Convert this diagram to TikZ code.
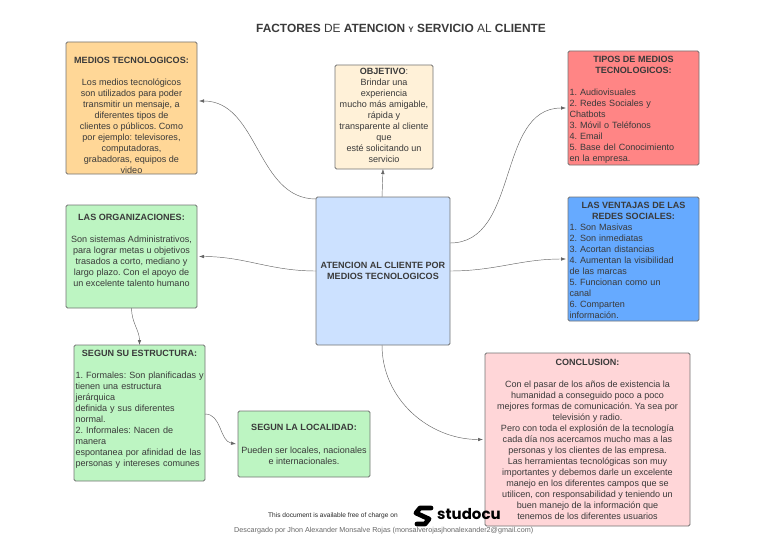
\documentclass[tikz,border=0pt]{standalone}
\usepackage{fontspec}
\setmainfont{Liberation Sans}
\newfontfamily\logofont{Poppins}
\usepackage{xcolor}
\usetikzlibrary{arrows.meta}
\definecolor{cajaNaranja}{HTML}{FFD797}
\definecolor{cajaCrema}{HTML}{FFF1D8}
\definecolor{cajaRojo}{HTML}{FF8585}
\definecolor{cajaAzul}{HTML}{66AAFF}
\definecolor{cajaVerde}{HTML}{BDF5C2}
\definecolor{cajaCentro}{HTML}{CCE1FF}
\definecolor{cajaRosa}{HTML}{FFD6D8}
\definecolor{letra}{HTML}{3A3A3A}
\frenchspacing
\tikzset{
  caja/.style={draw=black!55, line width=.9pt, rounded corners=1.5pt, anchor=north west, inner sep=0pt, outer sep=0pt},
  texto/.style={anchor=north, inner sep=0pt, text=letra, font=\frenchspacing\fontsize{9.05}{11}\selectfont},
  flecha/.style={draw=black!60, line width=.45pt, -{Latex[length=5pt,width=3.5pt]}}
}
\begin{document}
\begin{tikzpicture}[x=1pt,y=-1pt]
\useasboundingbox (0,0) rectangle (768,543);
\node[anchor=center, inner sep=0pt, text=letra, font=\bfseries\fontsize{11.9}{13}\selectfont] (titulo) at (401,28) {FACTORES {\mdseries DE} ATENCION {\footnotesize Y} SERVICIO {\mdseries AL} CLIENTE};
% cajas
\node[caja, fill=cajaNaranja, minimum width=131pt, minimum height=132pt] (medios) at (66,42) {};
\node[caja, fill=cajaCrema, minimum width=98pt, minimum height=104pt] (objetivo) at (335,65) {};
\node[caja, fill=cajaRojo, minimum width=131pt, minimum height=114pt] (tipos) at (568,51) {};
\node[caja, fill=cajaAzul, minimum width=131pt, minimum height=124pt] (ventajas) at (568,197) {};
\node[caja, fill=cajaVerde, minimum width=131pt, minimum height=103pt] (organizaciones) at (66,205) {};
\node[caja, fill=cajaCentro, minimum width=134pt, minimum height=148pt] (atencion) at (316,197) {};
\node[caja, fill=cajaVerde, minimum width=131pt, minimum height=136pt] (estructura) at (74,345) {};
\node[caja, fill=cajaVerde, minimum width=132pt, minimum height=66pt] (localidad) at (238,411) {};
\node[caja, fill=cajaRosa, minimum width=205pt, minimum height=173pt] (conclusion) at (485,353) {};
% textos
\node[texto, align=center] (mediosT) at ([yshift=-14.5pt]medios.north) {\textbf{MEDIOS TECNOLOGICOS:}\\[11pt]Los medios tecnológicos\\son utilizados para poder\\transmitir un mensaje, a\\diferentes tipos de\\clientes o públicos. Como\\por ejemplo: televisores,\\computadoras,\\grabadoras, equipos de\\video};
\node[texto, align=center] (objetivoT) at ([yshift=-3pt]objetivo.north) {\textbf{OBJETIVO}:\\Brindar una\\experiencia\\mucho más amigable,\\rápida y\\transparente al cliente\\que\\esté solicitando un\\servicio};
\node[texto, align=center] (tiposT) at ([yshift=-4.5pt]tipos.north) {\textbf{TIPOS DE MEDIOS}\\\textbf{TECNOLOGICOS:}};
\node[texto, align=left, text width=129pt] (tiposL) at ([xshift=.5pt,yshift=-37.5pt]tipos.north) {1. Audiovisuales\\2. Redes Sociales y\\Chatbots\\3. Móvil o Teléfonos\\4. Email\\5. Base del Conocimiento\\en la empresa.};
\node[texto, align=center] (ventajasT) at ([yshift=-4.5pt]ventajas.north) {\textbf{LAS VENTAJAS DE LAS}\\\textbf{REDES SOCIALES:}};
\node[texto, align=left, text width=129pt] (ventajasL) at ([xshift=.5pt,yshift=-26.5pt]ventajas.north) {1. Son Masivas\\2. Son inmediatas\\3. Acortan distancias\\4. Aumentan la visibilidad\\de las marcas\\5. Funcionan como un\\canal\\6. Comparten\\información.};
\node[texto, align=center] (organizacionesT) at ([yshift=-8.5pt]organizaciones.north) {\textbf{LAS ORGANIZACIONES:}\\[11pt]Son sistemas Administrativos,\\para lograr metas u objetivos\\trasados a corto, mediano y\\largo plazo. Con el apoyo de\\un excelente talento humano};
\node[texto, align=center, anchor=center] (atencionT) at (atencion.center) {\textbf{ATENCION AL CLIENTE POR}\\\textbf{MEDIOS TECNOLOGICOS}};
\node[texto, align=center] (estructuraT) at ([yshift=-4.5pt]estructura.north) {\textbf{SEGUN SU ESTRUCTURA:}};
\node[texto, align=left, text width=130pt] (estructuraL) at ([xshift=1pt,yshift=-26.5pt]estructura.north) {1. Formales: Son planificadas y\\tienen una estructura\\jerárquica\\definida y sus diferentes\\normal.\\2. Informales: Nacen de\\manera\\espontanea por afinidad de las\\personas y intereses comunes};
\node[texto, align=center] (localidadT) at ([yshift=-12.5pt]localidad.north) {\textbf{SEGUN LA LOCALIDAD:}\\[12pt]Pueden ser locales, nacionales\\e internacionales.};
\node[texto, align=center] (conclusionT) at ([yshift=-5.5pt]conclusion.north) {\textbf{CONCLUSION:}\\[11pt]Con el pasar de los años de existencia la\\humanidad a conseguido poco a poco\\mejores formas de comunicación. Ya sea por\\televisión y radio.\\Pero con toda el explosión de la tecnología\\cada día nos acercamos mucho mas a las\\personas y los clientes de las empresa.\\Las herramientas tecnológicas son muy\\importantes y debemos darle un excelente\\manejo en los diferentes campos que se\\utilicen, con responsabilidad y teniendo un\\buen manejo de la información que\\tenemos de los diferentes usuarios};
% conectores
\draw[flecha] ([yshift=-2pt]atencion.north west) to[out=180,in=0] ([xshift=2pt,yshift=7pt]medios.east);
\draw[flecha] ([xshift=-1pt]atencion.north) -- ([xshift=-1pt]objetivo.south);
\draw[flecha] ([yshift=-46pt]atencion.north east) to[out=0,in=180] ([xshift=-2pt]tipos.west);
\draw[flecha] (atencion.east) to[out=0,in=180] ([xshift=-2pt]ventajas.west);
\draw[flecha] (atencion.west) to[out=180,in=0] ([xshift=2pt]organizaciones.east);
\draw[flecha] (organizaciones.south) to[out=-90,in=90] (estructura.north);
\draw[flecha] ([yshift=-1pt]estructura.east) to[out=0,in=170] ([xshift=-2pt]localidad.west);
\draw[flecha] ([xshift=-1pt]atencion.south) to[out=-90,in=180] ([xshift=-2pt]conclusion.west);
% pie
\node[anchor=west, inner sep=0pt, text=black!85, font=\fontsize{6.6}{7}\selectfont] (pieA) at (268,516) {This document is available free of charge on};
\node[anchor=west, inner sep=0pt, text=black!60, font=\fontsize{7.2}{8}\selectfont] (pieB) at (234,531) {Descargado por Jhon Alexander Monsalve Rojas (monsalverojasjhonalexander2@gmail.com)};
\draw[black, line width=4.8pt, line cap=round, line join=round] (431,508) -- (420,508) -- (416,513) -- (429,519) -- (425,524) -- (417,524);
\node[anchor=west, inner sep=0pt, text=black, font=\logofont\bfseries\fontsize{15}{16}\selectfont] (logo) at (437,514) {studocu};
\end{tikzpicture}
\end{document}
